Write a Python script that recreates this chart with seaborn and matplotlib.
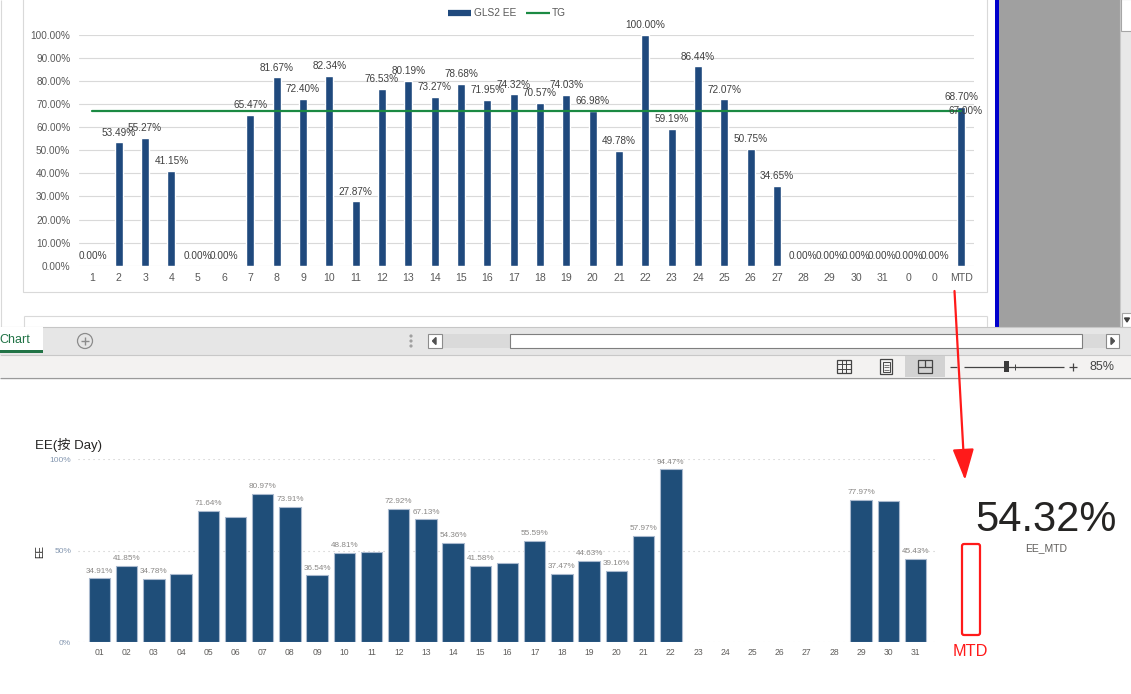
"""Excel vs Power BI EE chart comparison (screenshot recreation)."""

import matplotlib

matplotlib.use("Agg")

import matplotlib.pyplot as plt
import matplotlib.ticker as mticker
import numpy as np
import pandas as pd
import seaborn as sns
from matplotlib.lines import Line2D
from matplotlib.patches import Circle, FancyArrowPatch, FancyBboxPatch, Polygon, Rectangle

W, H = 1131, 694

# Excel chart (top)
excel_days = ["1", "2", "3", "4", "5", "6", "7", "8", "9", "10", "11", "12",
              "13", "14", "15", "16", "17", "18", "19", "20", "21", "22", "23",
              "24", "25", "26", "27", "28", "29", "30", "31", "0", "0", "MTD"]
excel_ee = [0.00, 53.49, 55.27, 41.15, 0.00, 0.00, 65.47, 81.67, 72.40, 82.34,
            27.87, 76.53, 80.19, 73.27, 78.68, 71.95, 74.32, 70.57, 74.03, 66.98,
            49.78, 100.00, 59.19, 86.44, 72.07, 50.75, 34.65, 0.00, 0.00, 0.00,
            0.00, 0.00, 0.00, 68.70]
excel_tg = [67.00] * len(excel_days)
excel_yticks = [0, 10, 20, 30, 40, 50, 60, 70, 80, 90, 100]

# Power BI chart (bottom)
pbi_days = ["01", "02", "03", "04", "05", "06", "07", "08", "09", "10", "11",
            "12", "13", "14", "15", "16", "17", "18", "19", "20", "21", "22",
            "23", "24", "25", "26", "27", "28", "29", "30", "31"]
pbi_ee = [34.91, 41.85, 34.78, 37.1, 71.64, 68.3, 80.97, 73.91, 36.54, 48.81,
          49.2, 72.92, 67.13, 54.36, 41.58, 43.4, 55.59, 37.47, 44.63, 39.16,
          57.97, 94.47, np.nan, np.nan, np.nan, np.nan, np.nan, np.nan, 77.97,
          77.3, 45.43]
pbi_hidden_labels = ["04", "06", "11", "16", "30"]
pbi_yticks = [0, 50, 100]
pbi_mtd = "54.32%"

EXCEL_BLUE = "#1F497D"
TG_GREEN = "#1B8A43"
PBI_BLUE = "#1F4E79"
RED = "#FF1A1A"


def px_axes(fig, x0, y0, x1, y1, **kw):
    return fig.add_axes([x0 / W, 1 - y1 / H, (x1 - x0) / W, (y1 - y0) / H], **kw)


def box(ax, x0, y0, x1, y1, fc="none", ec="none", lw=0.8, z=1):
    ax.add_patch(Rectangle((x0, y0), x1 - x0, y1 - y0, facecolor=fc,
                           edgecolor=ec, linewidth=lw, zorder=z))


def hline(ax, x0, x1, y, color, lw=0.8, z=2):
    ax.plot([x0, x1], [y, y], color=color, lw=lw, zorder=z, solid_capstyle="butt")


def vline(ax, x, y0, y1, color, lw=0.8, z=2):
    ax.plot([x, x], [y0, y1], color=color, lw=lw, zorder=z, solid_capstyle="butt")


sns.set_theme(style="white")
plt.rcParams["font.family"] = ["Liberation Sans", "Noto Sans CJK SC", "DejaVu Sans"]

fig = plt.figure(figsize=(W / 100, H / 100), dpi=100, facecolor="white")

# ---- window chrome -------------------------------------------------------
ui = fig.add_axes([0, 0, 1, 1], zorder=0)
ui.set_xlim(0, W)
ui.set_ylim(H, 0)
ui.axis("off")

box(ui, 23, -5, 987, 292, fc="white", ec="#D9D9D9")
vline(ui, 0.5, 0, 327, "#D9D9D9")
hline(ui, 24, 987, 316, "#D9D9D9")
vline(ui, 24, 316, 327, "#D9D9D9")
vline(ui, 987, 316, 327, "#D9D9D9")

# grey page-break area and right scrollbar
box(ui, 998, 0, 1120, 327, fc="#A0A0A0")
box(ui, 995, 0, 998.5, 327, fc="#0000CC")
box(ui, 1120, -1, 1132, 327, fc="#E8E8E8", ec="#C8C8C8")
box(ui, 1121, -1, 1132, 31, fc="white", ec="#A6A6A6")
box(ui, 1122, 313, 1132, 327, fc="white", ec="#A6A6A6")
ui.add_patch(Polygon([[1124.5, 318], [1129.5, 318], [1127, 322]], closed=True,
                     color="#404040", zorder=3))

# sheet tab bar
box(ui, 0, 327, W, 355, fc="#E6E6E6")
hline(ui, 0, W, 327, "#C6C6C6")
box(ui, 0, 327, 43, 352, fc="white", z=2)
box(ui, 0, 349.5, 43, 352.5, fc="#217346", z=3)
ui.text(-1, 340, "Chart", fontsize=9, color="#217346", ha="left", va="center",
        zorder=4)
ui.add_patch(Circle((85, 341), 7.5, facecolor="none", edgecolor="#8C8C8C",
                    lw=0.9, zorder=3))
hline(ui, 81, 89, 341, "#8C8C8C", lw=1.0, z=3)
vline(ui, 85, 337, 345, "#8C8C8C", lw=1.0, z=3)
for yy in (336, 341, 346):
    ui.add_patch(Circle((411, yy), 0.9, color="#A0A0A0", zorder=3))

# horizontal scrollbar
box(ui, 441.5, 334, 1106, 348, fc="#DADADA", z=2)
box(ui, 428, 334, 441.5, 348, fc="white", ec="#8C8C8C", z=3)
ui.add_patch(Polygon([[432.5, 341], [436, 337.5], [436, 344.5]], closed=True,
                     color="#505050", zorder=4))
box(ui, 510, 334, 1082, 348, fc="white", ec="#7F7F7F", z=3)
box(ui, 1106, 334, 1119, 348, fc="white", ec="#8C8C8C", z=3)
ui.add_patch(Polygon([[1114.5, 341], [1111, 337.5], [1111, 344.5]], closed=True,
                     color="#505050", zorder=4))

# status bar
hline(ui, 0, W, 355, "#C8C8C8")
box(ui, 0, 355.5, W, 377, fc="#F3F2F1")
hline(ui, 0, W, 377.5, "#9A9A9A", lw=1.0)
box(ui, 905, 355.5, 945, 377, fc="#D2D2D2", z=2)
# normal view
box(ui, 837, 360, 851, 373, ec="#444444", lw=0.9, z=3)
for gx in (841.7, 846.3):
    vline(ui, gx, 360, 373, "#444444", lw=0.7, z=3)
for gy in (364.3, 368.7):
    hline(ui, 837, 851, gy, "#444444", lw=0.7, z=3)
# page layout
box(ui, 880, 359, 892, 374, ec="#444444", lw=0.9, z=3)
box(ui, 882.5, 361.5, 889.5, 371.5, ec="#444444", lw=0.7, z=3)
for gy in (364.5, 367, 369.5):
    hline(ui, 883.5, 888.5, gy, "#444444", lw=0.5, z=3)
# page break preview
box(ui, 918, 359.5, 932, 373, ec="#444444", lw=0.9, z=3)
vline(ui, 925, 359.5, 367, "#444444", lw=0.9, z=3)
hline(ui, 918, 932, 367, "#444444", lw=0.9, z=3)
# zoom slider
hline(ui, 950, 957, 366.5, "#444444", lw=0.9)
hline(ui, 964, 1064, 366.5, "#444444", lw=0.9)
box(ui, 1004, 361, 1009, 372, fc="#3A3A3A", z=3)
vline(ui, 1015, 363.5, 369.5, "#444444", lw=0.7)
hline(ui, 1069, 1077, 366.5, "#444444", lw=0.9)
vline(ui, 1073, 362.5, 370.5, "#444444", lw=0.9)
ui.text(1102, 366.5, "85%", fontsize=9, color="#444444", ha="center", va="center")

# ---- Excel chart -----------------------------------------------------------
ax1 = px_axes(fig, 79.3, 35, 974.4, 265.7, zorder=1)
ax1.set_facecolor("none")
pos1 = list(range(len(excel_days)))
sns.barplot(x=pos1, y=excel_ee, color=EXCEL_BLUE, saturation=1, width=0.3,
            ax=ax1, zorder=2)
sns.lineplot(x=pos1, y=excel_tg, color=TG_GREEN, lw=1.6, ax=ax1, zorder=3)
ax1.set_xlim(-0.5, len(excel_days) - 0.5)
ax1.set_ylim(0, 100)
ax1.set_yticks(excel_yticks)
ax1.yaxis.set_major_formatter(mticker.PercentFormatter(xmax=100, decimals=2))
ax1.set_xticks(pos1)
ax1.set_xticklabels(excel_days)
ax1.tick_params(axis="y", length=0, pad=6.5, labelsize=7.2, labelcolor="#595959")
ax1.tick_params(axis="x", length=0, pad=5.5, labelsize=7.6, labelcolor="#595959")
ax1.grid(axis="y", color="#D9D9D9", lw=0.8)
ax1.set_axisbelow(True)
for s in ax1.spines.values():
    s.set_visible(False)
ax1.set_xlabel("")
ax1.set_ylabel("")
for i, v in enumerate(excel_ee):
    ax1.annotate(f"{v:.2f}%", (i, v), xytext=(0, 7), textcoords="offset points",
                 ha="center", va="center", fontsize=7.2, color="#404040", zorder=4)
ax1.annotate(f"{excel_tg[-1]:.2f}%", (pos1[-1], excel_tg[-1]), xytext=(3, 0),
             textcoords="offset points", ha="center", va="center", fontsize=7.2,
             color="#404040", zorder=4)

handles = [Line2D([], [], color=EXCEL_BLUE, lw=4.5, solid_capstyle="butt"),
           Line2D([], [], color=TG_GREEN, lw=1.6, solid_capstyle="butt")]
fig.legend(handles, ["GLS2 EE", "TG"], loc="center", ncol=2, frameon=False,
           bbox_to_anchor=(507 / W, 1 - 13.5 / H), fontsize=7.3,
           labelcolor="#595959", handlelength=2.3, handletextpad=0.25,
           columnspacing=1.0)

# ---- Power BI chart --------------------------------------------------------
pbi = pd.DataFrame({"day": pbi_days, "ee": pbi_ee})
ax2 = px_axes(fig, 78, 459.3, 936, 642.3, zorder=1)
ax2.set_facecolor("none")
sns.barplot(data=pbi, x="day", y="ee", order=pbi_days, color=PBI_BLUE,
            saturation=1, width=0.79, edgecolor="#A9B9CE", linewidth=0.8,
            ax=ax2, zorder=2)
ax2.set_xlim(-0.79, 30.75)
ax2.set_ylim(0, 100)
ax2.set_yticks(pbi_yticks)
ax2.yaxis.set_major_formatter(mticker.PercentFormatter(xmax=100, decimals=0))
ax2.tick_params(axis="y", length=0, pad=5, labelsize=6, labelcolor="#8497B0")
ax2.tick_params(axis="x", length=0, pad=4, labelsize=6.2, labelcolor="#605E5C")
ax2.grid(axis="y", color="#C8C8C8", lw=0.8, linestyle=(0, (1, 3.5)))
ax2.set_axisbelow(True)
for s in ax2.spines.values():
    s.set_visible(False)
ax2.set_xlabel("")
ax2.set_ylabel("")
for i, (d, v) in enumerate(zip(pbi_days, pbi_ee)):
    if np.isnan(v) or d in pbi_hidden_labels:
        continue
    ax2.annotate(f"{v:.2f}%", (i, v), xytext=(0, 5.2), textcoords="offset points",
                 ha="center", va="center", fontsize=5.9, color="#8A8886", zorder=4)

ui.text(35, 445, "EE(按 Day)", fontsize=9.5, color="#252423", ha="left", va="center")
ui.text(40, 551, "EE", fontsize=7, color="#252423", ha="center", va="center",
        rotation=90)
ui.text(1046, 520, pbi_mtd, fontsize=30, color="#252423", ha="center", va="center")
ui.text(1046, 548, "EE_MTD", fontsize=7.5, color="#605E5C", ha="center", va="center")

# ---- red annotations -------------------------------------------------------
ov = fig.add_axes([0, 0, 1, 1], zorder=5)
ov.set_xlim(0, W)
ov.set_ylim(H, 0)
ov.axis("off")
ov.set_facecolor("none")
ov.add_patch(FancyBboxPatch((962, 544), 18, 91, boxstyle="round,pad=0,rounding_size=2",
                            facecolor="none", edgecolor=RED, lw=1.6))
ov.text(970, 651, "MTD", fontsize=11.7, color=RED, ha="center", va="center")
ov.add_patch(FancyArrowPatch((954.5, 291), (965, 480),
                             arrowstyle="-|>,head_length=1.6,head_width=0.55",
                             mutation_scale=12, color=RED, lw=1.6,
                             shrinkA=0, shrinkB=0))

fig.savefig("out.png", dpi=100, facecolor="white")
plt.close(fig)
